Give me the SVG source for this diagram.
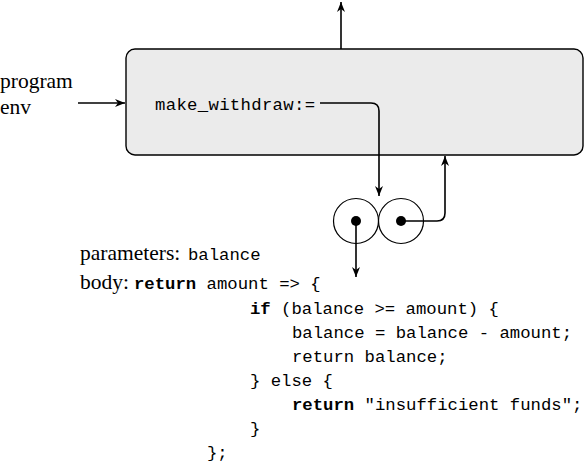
<svg xmlns="http://www.w3.org/2000/svg" width="588" height="463" viewBox="0 0 588 463">
<defs>
<style>
.serif{font-family:"Liberation Serif","Times New Roman",serif;font-size:21.5px;fill:#000}
.mono{font-family:"Liberation Mono","Courier New",monospace;font-size:17.3px;fill:#000}
.b{font-weight:bold}
.ln{fill:none;stroke:#000;stroke-width:1.6}
</style>
<marker id="ah" viewBox="0 0 10 10" refX="10" refY="5" markerWidth="10" markerHeight="10" markerUnits="userSpaceOnUse" orient="auto">
<path d="M0,1 L10,5 L0,9 L3,5 Z" fill="#000"/>
</marker>
</defs>
<g id="frame">
<rect x="126" y="49" width="457" height="106" rx="9" ry="9" fill="#ebebeb" stroke="#000" stroke-width="1.4"/>
<text class="mono" x="155" y="110" textLength="160">make_withdraw:=</text>
</g>
<g id="label-program-env">
<text class="serif" x="0" y="88">program</text>
<text class="serif" x="0" y="114">env</text>
</g>
<g id="function-object">
<circle cx="356" cy="221" r="22.5" fill="none" stroke="#000" stroke-width="1.2"/>
<circle cx="401" cy="221" r="22.5" fill="none" stroke="#000" stroke-width="1.2"/>
<circle cx="356" cy="221" r="5" fill="#000"/>
<circle cx="401" cy="221" r="5" fill="#000"/>
</g>
<g id="connectors">
<line class="ln" x1="341" y1="49" x2="341" y2="2" marker-end="url(#ah)"/>
<line class="ln" x1="78" y1="103" x2="125" y2="103" marker-end="url(#ah)"/>
<path class="ln" d="M320,103 H371 Q379,103 379,111 V196" marker-end="url(#ah)"/>
<path class="ln" d="M401,221 H437 Q445,221 445,213 V156" marker-end="url(#ah)"/>
<line class="ln" x1="356" y1="221" x2="356" y2="277" marker-end="url(#ah)"/>
</g>
<g id="code">
<text class="serif" x="80" y="260">parameters:</text>
<text class="mono" x="188" y="260">balance</text>
<text class="serif" x="80" y="289">body:</text>
<text class="mono" x="134" y="289"><tspan class="b">return</tspan> amount =&gt; {</text>
<text class="mono" x="250" y="314"><tspan class="b">if</tspan> (balance &gt;= amount) {</text>
<text class="mono" x="292" y="338">balance = balance - amount;</text>
<text class="mono" x="292" y="362">return balance;</text>
<text class="mono" x="250" y="386">} else {</text>
<text class="mono" x="292" y="410"><tspan class="b">return</tspan> "insufficient funds";</text>
<text class="mono" x="250" y="434">}</text>
<text class="mono" x="207" y="458">};</text>
</g>
</svg>
